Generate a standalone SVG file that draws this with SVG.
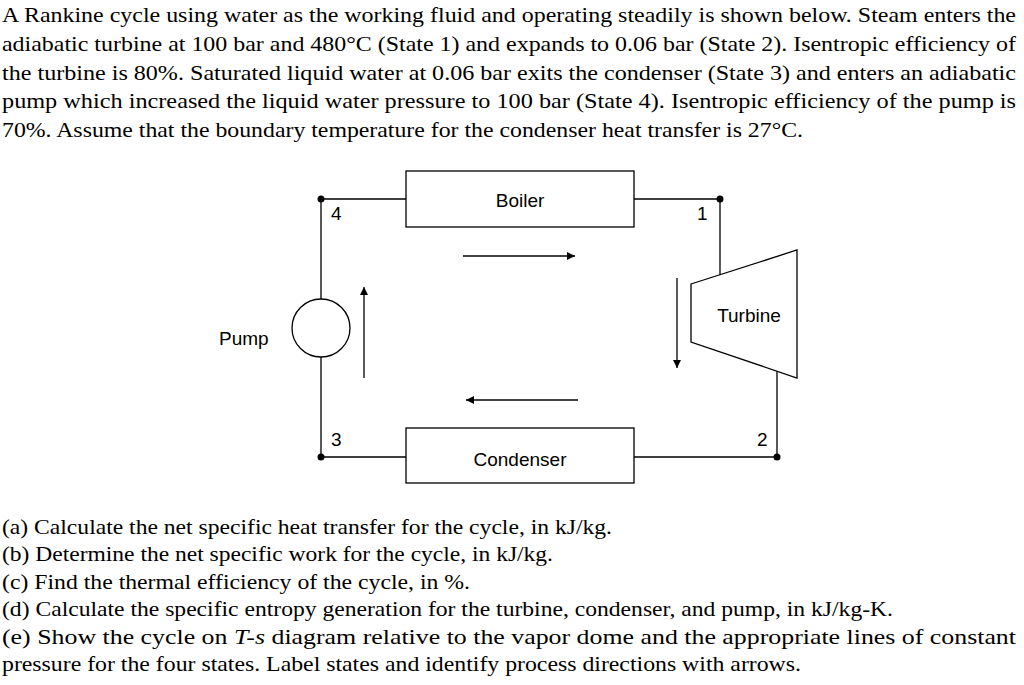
<svg xmlns="http://www.w3.org/2000/svg" width="1024" height="685" viewBox="0 0 1024 685">
<style>
.t{font-family:"Liberation Serif",serif;font-size:21.5px;fill:#000}
.l{font-family:"Liberation Sans",Arial,sans-serif;font-size:19px;fill:#000}
.s{fill:none;stroke:#000;stroke-width:1.3}
</style>
<defs><marker id="a" viewBox="0 0 10 10" refX="10" refY="5" markerWidth="12" markerHeight="8" markerUnits="userSpaceOnUse" orient="auto"><path d="M0,0L10,5L0,10z"/></marker></defs>
<rect width="1024" height="685" fill="#fff"/>
<text class="t" x="2" y="22" textLength="1014" lengthAdjust="spacingAndGlyphs">A Rankine cycle using water as the working fluid and operating steadily is shown below.  Steam enters the</text>
<text class="t" x="2" y="51" textLength="1014" lengthAdjust="spacingAndGlyphs">adiabatic turbine at 100 bar and 480°C (State 1) and expands to 0.06 bar (State 2).  Isentropic efficiency of</text>
<text class="t" x="2" y="80" textLength="1014" lengthAdjust="spacingAndGlyphs">the turbine is 80%.  Saturated liquid water at 0.06 bar exits the condenser (State 3) and enters an adiabatic</text>
<text class="t" x="2" y="108" textLength="1014" lengthAdjust="spacingAndGlyphs">pump which increased the liquid water pressure to 100 bar (State 4).  Isentropic efficiency of the pump is</text>
<text class="t" x="2" y="137" textLength="801" lengthAdjust="spacingAndGlyphs">70%.  Assume that the boundary temperature for the condenser heat transfer is 27°C.</text>
<g id="connectors">
<path class="s" d="M321,199H406M634,199H720V275M321,199V299M321,357V457H406M634,457H777V371"/>
<path class="s" d="M463,256H575" marker-end="url(#a)"/>
<path class="s" d="M677,278V368" marker-end="url(#a)"/>
<path class="s" d="M578,400H466" marker-end="url(#a)"/>
<path class="s" d="M364,378V287" marker-end="url(#a)"/>
<g fill="#000"><circle cx="321" cy="199" r="3.5"/><circle cx="720" cy="199" r="3.5"/><circle cx="321" cy="457" r="3.5"/><circle cx="777" cy="457" r="3.5"/></g>
<text class="l" x="331" y="220">4</text><text class="l" x="697" y="220">1</text><text class="l" x="331" y="446">3</text><text class="l" x="757" y="446">2</text>
</g>
<g id="boiler"><rect class="s" x="406" y="171" width="228" height="56"/><text class="l" x="520" y="207" text-anchor="middle">Boiler</text></g>
<g id="condenser"><rect class="s" x="406" y="428" width="228" height="55"/><text class="l" x="520" y="466" text-anchor="middle">Condenser</text></g>
<g id="turbine"><path class="s" d="M691,284L797,250V378L691,342Z"/><text class="l" x="749" y="322" text-anchor="middle">Turbine</text></g>
<g id="pump"><circle class="s" cx="321" cy="328" r="29"/><text class="l" x="219" y="345">Pump</text></g>
<text class="t" x="2" y="534" textLength="610" lengthAdjust="spacingAndGlyphs">(a) Calculate the net specific heat transfer for the cycle, in kJ/kg.</text>
<text class="t" x="2" y="561" textLength="551" lengthAdjust="spacingAndGlyphs">(b) Determine the net specific work for the cycle, in kJ/kg.</text>
<text class="t" x="2" y="589" textLength="468" lengthAdjust="spacingAndGlyphs">(c) Find the thermal efficiency of the cycle, in %.</text>
<text class="t" x="2" y="616" textLength="891" lengthAdjust="spacingAndGlyphs">(d) Calculate the specific entropy generation for the turbine, condenser, and pump, in kJ/kg-K.</text>
<text class="t" x="2" y="644" textLength="1014" lengthAdjust="spacingAndGlyphs">(e) Show the cycle on <tspan font-style="italic">T-s</tspan> diagram relative to the vapor dome and the appropriate lines of constant</text>
<text class="t" x="2" y="671" textLength="799" lengthAdjust="spacingAndGlyphs">pressure for the four states.  Label states and identify process directions with arrows.</text>
</svg>
